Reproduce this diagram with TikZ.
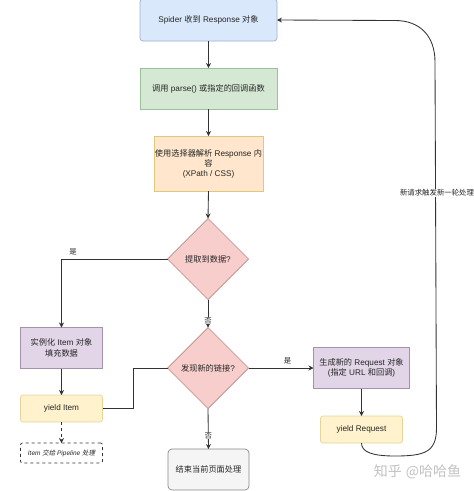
\documentclass[tikz,border=0pt]{standalone}
\usepackage{fontspec}
\setmainfont{Liberation Sans}
\newfontfamily\cjk{Noto Sans CJK SC}
\newfontfamily\cjkslant[FakeSlant=0.2]{Noto Sans CJK SC}
\newcommand{\zh}[1]{{\cjk #1}}
\newcommand{\zhi}[1]{{\cjkslant #1}}
\usetikzlibrary{shapes.geometric,arrows.meta,positioning}
\definecolor{linec}{HTML}{333333}
\definecolor{bluefill}{HTML}{DAE8FC}\definecolor{blueline}{HTML}{9DB2CC}
\definecolor{greenfill}{HTML}{D5E8D4}\definecolor{greenline}{HTML}{9DBF9A}
\definecolor{orangefill}{HTML}{FFE6CC}\definecolor{orangeline}{HTML}{E3C77A}
\definecolor{purplefill}{HTML}{E1D5E7}\definecolor{purpleline}{HTML}{A593AE}
\definecolor{yellowfill}{HTML}{FFF2CC}\definecolor{yellowline}{HTML}{E6D59A}
\definecolor{redfill}{HTML}{F8CECC}\definecolor{redline}{HTML}{B98785}
\definecolor{greyfill}{HTML}{F5F5F5}\definecolor{greyline}{HTML}{888888}
\tikzset{
 x=1pt,y=-1pt,
 base/.style={draw,align=center,inner sep=0pt,outer sep=0pt,line width=0.7pt,font=\fontsize{8.2}{10.5}\selectfont,text=black!85},
 bluebox/.style={base,rounded corners=3pt,fill=bluefill,draw=blueline,minimum width=137pt,minimum height=42pt},
 greenbox/.style={base,fill=greenfill,draw=greenline,minimum width=137pt,minimum height=41pt},
 orangebox/.style={base,fill=orangefill,draw=orangeline,minimum width=109pt,minimum height=55pt},
 purplebox/.style={base,fill=purplefill,draw=purpleline,minimum height=41pt},
 yellowbox/.style={base,rounded corners=2.5pt,fill=yellowfill,draw=yellowline,minimum width=82pt,minimum height=27pt},
 decision/.style={base,diamond,aspect=1,fill=redfill,draw=redline,minimum width=81pt,minimum height=81pt},
 dashbox/.style={base,dashed,rounded corners=2pt,draw=linec,minimum width=82pt,minimum height=20pt,font=\fontsize{6.5}{8}\selectfont\itshape},
 endbox/.style={base,rounded corners=4pt,fill=greyfill,draw=greyline,minimum width=81pt,minimum height=41pt},
 flow/.style={draw=linec,line width=0.85pt,-{Stealth[length=5pt,width=5pt]}},
 plain/.style={draw=linec,line width=0.85pt},
 lab/.style={font=\fontsize{7.4}{9}\selectfont,text=black!85,inner sep=0.5pt},
}
\begin{document}
\begin{tikzpicture}
\useasboundingbox[fill=white] (0,0) rectangle (474,491);
\node[bluebox] (s) at (208.5,20) {Spider \zh{收到} Response \zh{对象}};
\node[greenbox] (p) at (208.5,88.5) {\zh{调用} parse() \zh{或指定的回调函数}};
\node[orangebox] (o) at (208.5,163.5) {\zh{使用选择器解析} Response \zh{内}\\[-0.5pt]\zh{容}\\[-0.5pt](XPath / CSS)};
\node[decision] (d1) at (208,259) {\zh{提取到数据}?};
\node[decision] (d2) at (208,368) {\zh{发现新的链接}?};
\node[purplebox,minimum width=82pt] (i) at (61.5,348) {\zh{实例化} Item \zh{对象}\\\zh{填充数据}};
\node[yellowbox] (yi) at (61.5,408.5) {yield Item};
\node[dashbox] (pipe) at (61.5,453) {Item \zhi{交给} Pipeline \zhi{处理}};
\node[endbox] (e) at (208.5,469.5) {\zh{结束当前页面处理}};
\node[purplebox,minimum width=96pt] (r) at (361.5,368) {\zh{生成新的} Request \zh{对象}\\(\zh{指定} URL \zh{和回调})};
\node[yellowbox] (yr) at (361.5,429.5) {yield Request};

\coordinate (c1) at (61.5,259);
\coordinate (c2) at (133.5,408.5);
\coordinate (c3) at (133.5,368);
\coordinate (l1) at (395,456);
\coordinate (l2) at (436.5,428);
\coordinate (l3) at (435,62);
\coordinate (l4) at (395,20.5);

\draw[flow] (s.south) -- (p.north);
\draw[flow] (p.south) -- (o.north);
\draw[flow] (o.south) -- (d1.north);
\draw[flow] (d1.west) -- (c1) -- (i.north);
\draw[flow] (d1.south) -- node[lab,fill=white,pos=0.75] {\zh{否}} (d2.north);
\draw[flow] (d2.east) -- node[lab,above=2.5pt,pos=0.6] {\zh{是}} (r.west);
\draw[flow] (d2.south) -- node[lab,fill=white,pos=0.67] {\zh{否}} (e.north);
\draw[flow] (i.south) -- (yi.north);
\draw[flow] (r.south) -- (yr.north);
\draw[plain] (yi.east) -- (c2) -- (c3) -- (d2.west);
\draw[flow,dashed] (yi.south) -- (pipe.north);
\draw[flow] (yr.south) .. controls (361.5,452) and (372,456) .. (l1)
  .. controls (425,456) and (436.5,452) .. (l2) -- (l3)
  .. controls (435,36) and (420,20.5) .. (l4) -- (s.east);
\node[lab,fill=white] (loop) at (437,193) {\zh{新请求触发新一轮处理}};
\node[lab] (yes1) at (73,252) {\zh{是}};
\node[font=\fontsize{14}{16}\selectfont,text=black!24,inner sep=0pt] (wm) at (417.5,472) {\zh{知乎} \zh{@哈哈鱼}};
\end{tikzpicture}
\end{document}
